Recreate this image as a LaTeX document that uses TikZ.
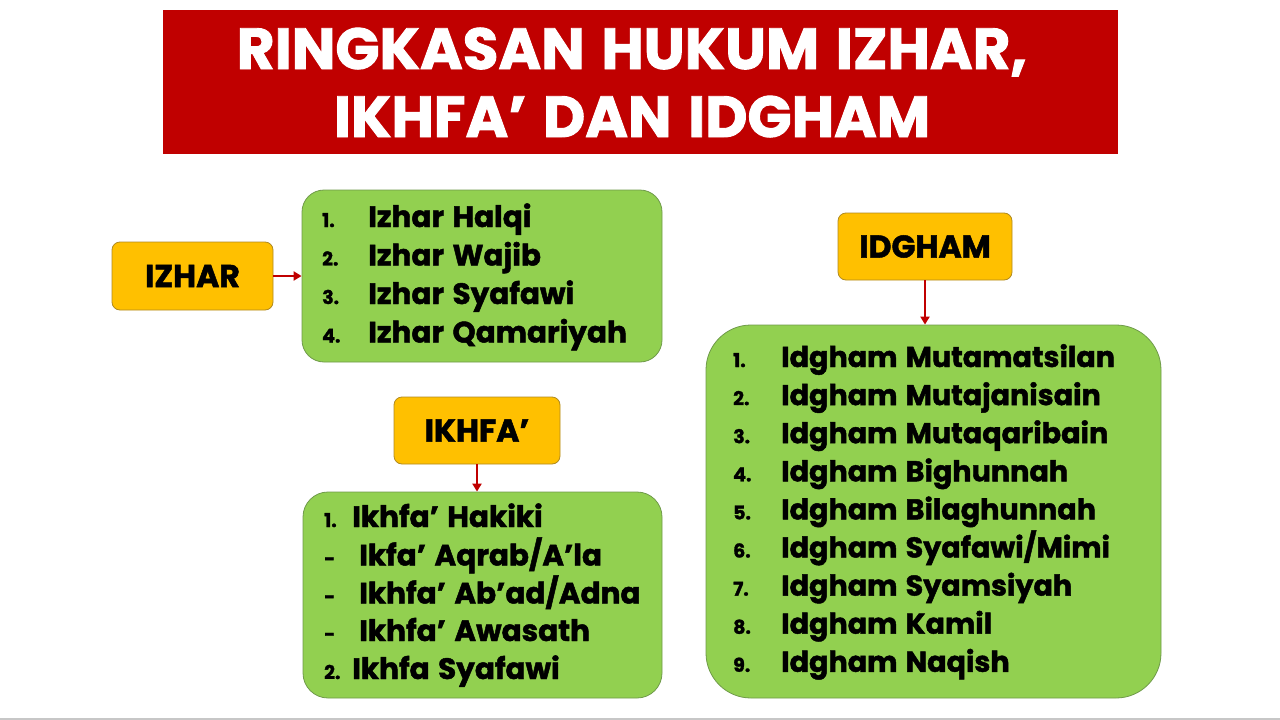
\documentclass[tikz,border=0pt]{standalone}
\usepackage{fontspec}
\setmainfont{Poppins}[BoldFeatures={FakeBold=1.6}, WordSpace=1.35]
\usetikzlibrary{arrows.meta}
\definecolor{titlered}{HTML}{C00000}
\definecolor{orangefill}{HTML}{FFC000}
\definecolor{orangeedge}{HTML}{B08A20}
\definecolor{greenfill}{HTML}{92D050}
\definecolor{greenedge}{HTML}{6F9A4A}
\definecolor{arrowred}{HTML}{C00000}
\tikzset{
  headbox/.style={draw=orangeedge, line width=0.8, fill=orangefill, rounded corners=8, inner sep=0,
    font=\bfseries\fontsize{31.5}{34}\selectfont, text=black},
  listbox/.style={draw=greenedge, line width=0.8, fill=greenfill, inner sep=0},
  itemtext/.style={anchor=base west, inner sep=0, font=\bfseries\fontsize{29.5}{32}\selectfont},
  itemtextb/.style={anchor=base west, inner sep=0, font=\bfseries\fontsize{28.6}{32}\selectfont},
  numtext/.style={anchor=base west, inner sep=0, font=\bfseries\fontsize{19}{20}\selectfont},
  link/.style={draw=arrowred, line width=2, -{Triangle[length=8,width=9]}}
}
\begin{document}
\begin{tikzpicture}[x=1pt,y=-1pt]
\useasboundingbox (0,0) rectangle (1280,720);
\fill[white] (0,0) rectangle (1280,720);
\draw[black!22, line width=1.5] (0,719) -- (1280,719);
% title
\node[fill=titlered, minimum width=955, minimum height=144, inner sep=0] (title) at (640.5,82) {};
\node[anchor=base, inner sep=0, text=white, font=\bfseries\fontsize{58}{60}\selectfont] (t1) at (632,69) {RINGKASAN HUKUM IZHAR,};
\node[anchor=base, inner sep=0, text=white, font=\bfseries\fontsize{58}{60}\selectfont] (t2) at (632,137) {IKHFA’ DAN IDGHAM};
% head boxes
\node[headbox, minimum width=161, minimum height=68] (izhar) at (192.5,276) {IZHAR};
\node[headbox, minimum width=166, minimum height=67] (ikhfa) at (477,430.5) {IKHFA’};
\node[headbox, minimum width=174, minimum height=67] (idgham) at (925,246.5) {IDGHAM};
% list boxes
\node[listbox, rounded corners=22, minimum width=360, minimum height=172] (g1) at (482,276) {};
\node[listbox, rounded corners=25, minimum width=359, minimum height=206] (g2) at (482.5,595) {};
\node[listbox, rounded corners=45, minimum width=455, minimum height=373] (g3) at (933.5,511.5) {};
% arrows
\draw[link] (izhar.east) -- (g1.west |- izhar.east);
\draw[link] (ikhfa.south) -- (ikhfa.south |- g2.north);
\draw[link] (idgham.south) -- (idgham.south |- g3.north);
% izhar list
\foreach \txt [count=\i] in {Izhar Halqi, Izhar Wajib, Izhar Syafawi, Izhar Qamariyah}{
  \node[numtext] (zn\i) at (322,{227+38.5*(\i-1)}) {\i.};
  \node[itemtext] (zi\i) at (368,{227+38.5*(\i-1)}) {\txt};
}
% ikhfa list
\node[numtext] (kn1) at (324,527) {1.};
\node[itemtext] (ki1) at (352,527) {Ikhfa’ Hakiki};
\node[numtext] (kd1) at (324,565.5) {-};
\node[itemtext] (ki2) at (359,565.5) {Ikfa’ Aqrab/A’la};
\node[numtext] (kd2) at (324,603.5) {-};
\node[itemtext] (ki3) at (359,603.5) {Ikhfa’ Ab’ad/Adna};
\node[numtext] (kd3) at (324,641) {-};
\node[itemtext] (ki4) at (359,641) {Ikhfa’ Awasath};
\node[numtext] (kn2) at (324,679) {2.};
\node[itemtext] (ki5) at (352,679) {Ikhfa Syafawi};
% idgham list
\foreach \txt [count=\i] in {Idgham Mutamatsilan, Idgham Mutajanisain, Idgham Mutaqaribain, Idgham Bighunnah, Idgham Bilaghunnah, Idgham Syafawi/Mimi, Idgham Syamsiyah, Idgham Kamil, Idgham Naqish}{
  \node[numtext] (dn\i) at (733,{367+38.1*(\i-1)}) {\i.};
  \node[itemtextb] (di\i) at (781,{367+38.1*(\i-1)}) {\txt};
}
\end{tikzpicture}
\end{document}
